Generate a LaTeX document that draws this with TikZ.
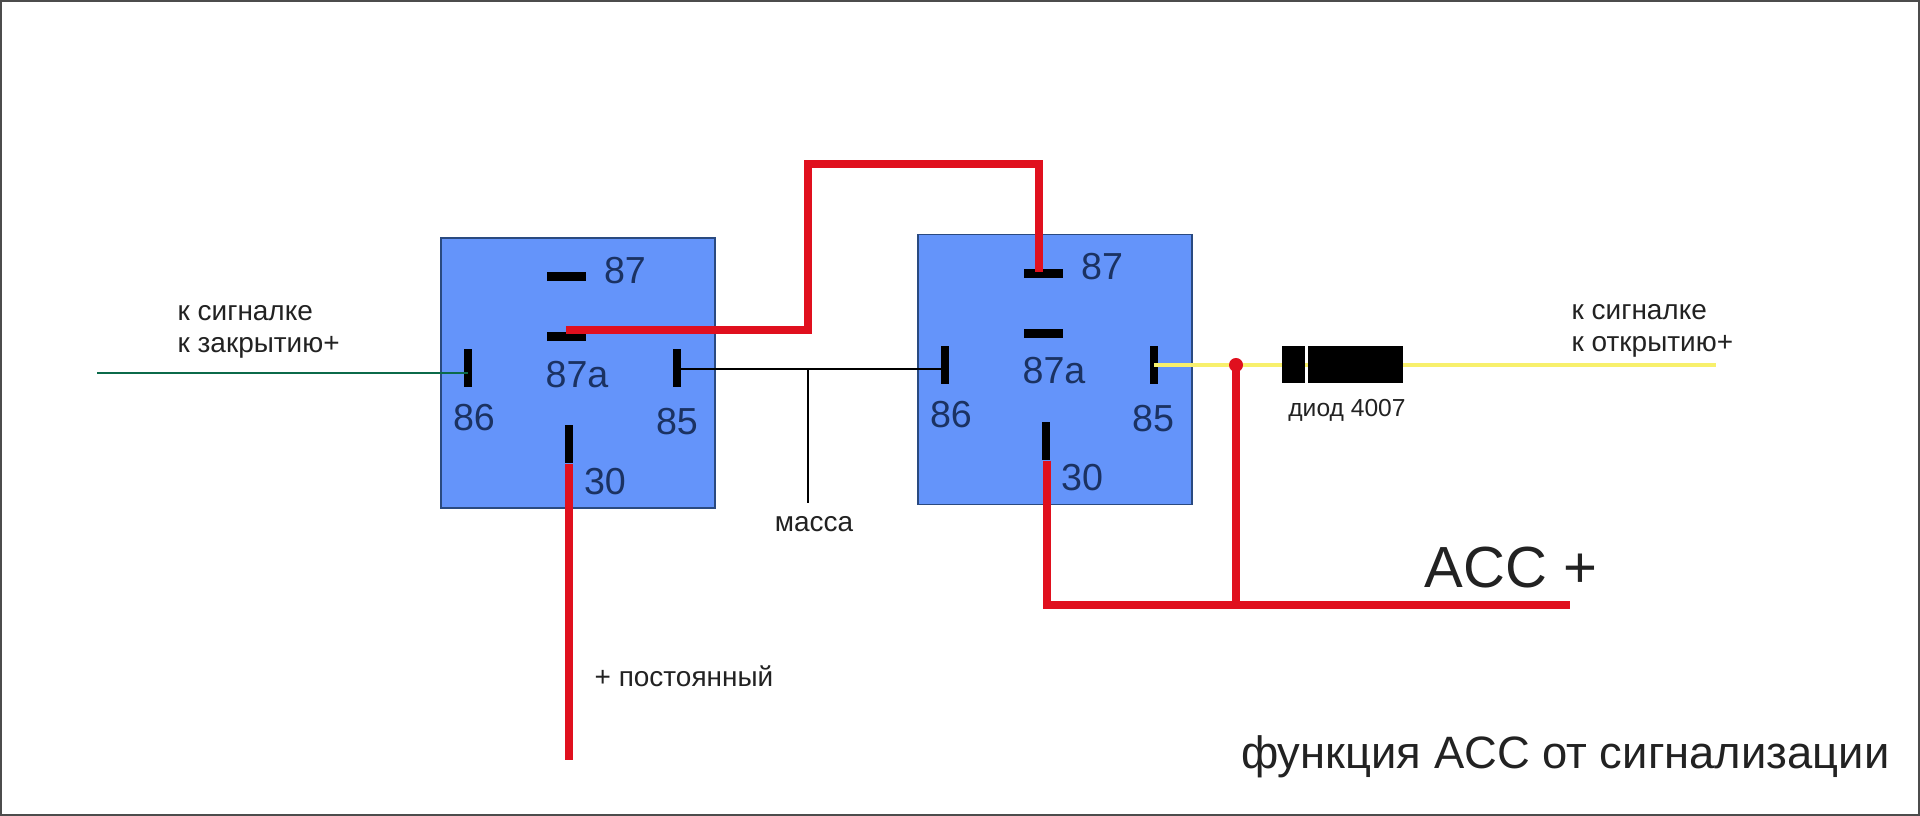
\documentclass[tikz,border=0pt]{standalone}
\usepackage{fontspec}
\setmainfont{Liberation Sans}
\definecolor{relayblue}{HTML}{6494FA}
\definecolor{relayedge}{HTML}{2A4A80}
\definecolor{pinlabel}{HTML}{1B3262}
\definecolor{wirered}{HTML}{E0101E}
\definecolor{wireyellow}{HTML}{F8F06C}
\definecolor{wiregreen}{HTML}{0B6A4A}
\definecolor{inktext}{HTML}{222222}
\begin{document}
\begin{tikzpicture}[x=0.01cm,y=-0.01cm]
\tikzstyle{relay}=[draw=relayedge,line width=0.4pt,fill=relayblue,minimum width=2.74cm,minimum height=2.7cm,inner sep=0pt]
\tikzstyle{pinh}=[fill=black,minimum width=0.39cm,minimum height=0.09cm,inner sep=0pt]
\tikzstyle{pinv}=[fill=black,minimum width=0.08cm,minimum height=0.38cm,inner sep=0pt]
\tikzstyle{pinnum}=[text=pinlabel,inner sep=0pt,font=\fontsize{10.7}{12}\selectfont]
\tikzstyle{note}=[text=inktext,inner sep=0pt,align=left,font=\fontsize{7.95}{9}\selectfont]
\tikzstyle{redwire}=[draw=wirered,line width=2.2pt]
\useasboundingbox (0,0) rectangle (1920,816);
\draw[black!70,line width=0.5pt] (1,1) rectangle (1919,815);
% relay boxes
\node[relay] (relayA) at (578,373) {};
\node[relay] (relayB) at (1055,369.5) {};
% pins
\node[pinh] (a87) at (566.5,277) {};
\node[pinh] (a87a) at (566.5,337) {};
\node[pinv] (a86) at (468,368) {};
\node[pinv] (a85) at (677,368) {};
\node[pinv] (a30) at (569,444) {};
\node[pinh] (b87) at (1043.5,274) {};
\node[pinh] (b87a) at (1043.5,334) {};
\node[pinv] (b86) at (945,365) {};
\node[pinv] (b85) at (1154,365) {};
\node[pinv] (b30) at (1046,441) {};
% wire ends and corners
\coordinate (alarmclose) at (97,373);
\coordinate (alarmopen) at (1716,365);
\coordinate (massa) at (808,369);
\coordinate (massaend) at (808,503);
\coordinate (plusend) at (569,760);
\coordinate (linkstart) at (566,330);
\coordinate (linkup) at (808,330);
\coordinate (linktop) at (808,164);
\coordinate (linkover) at (1039,164);
\coordinate (linkdown) at (1039,272);
\coordinate (accend) at (1570,605);
\coordinate (accjoin) at (1236,605);
\coordinate (accdot) at (1236,365);
% thin wires
\draw[wiregreen,line width=0.6pt] (alarmclose) -- (alarmclose -| a86);
\draw[black,line width=0.7pt] (massa -| a85) -- (massa -| b86);
\draw[black,line width=0.7pt] (massa) -- (massaend);
\draw[wireyellow,line width=1pt] (b85.center |- alarmopen) -- (alarmopen);
% diode
\node[fill=black,minimum width=0.23cm,minimum height=0.37cm,inner sep=0pt] (diodeband) at (1293.5,364.5) {};
\node[fill=black,minimum width=0.95cm,minimum height=0.37cm,inner sep=0pt] (diodebody) at (1355.5,364.5) {};
% red wires
\draw[redwire] (a30.south) -- (a30.south |- plusend);
\draw[redwire] (linkstart) -- (linkup) -- (linktop) -- (linkover) -- (linkdown);
\draw[redwire] (b30.south) ++(1,0) |- (accend);
\draw[redwire] (accjoin) -- (accdot);
\node[circle,fill=wirered,minimum size=0.14cm,inner sep=0pt] (dot) at (accdot) {};
% pin numbers
\node[pinnum] (ta87) at (625,271) {87};
\node[pinnum] (ta87a) at (577,375) {87a};
\node[pinnum] (ta86) at (474,418) {86};
\node[pinnum] (ta85) at (677,422) {85};
\node[pinnum] (ta30) at (605,482) {30};
\node[pinnum] (tb87) at (1102,267) {87};
\node[pinnum] (tb87a) at (1054,371) {87a};
\node[pinnum] (tb86) at (951,415) {86};
\node[pinnum] (tb85) at (1153,419) {85};
\node[pinnum] (tb30) at (1082,478) {30};
% labels
\node[note,anchor=west] (closelabel) at (177,332) {к сигналке\\к закрытию+};
\node[note,anchor=west] (openlabel) at (1571,331) {к сигналке\\к открытию+};
\node[note] (massalabel) at (814,524) {масса};
\node[note,anchor=west] (pluslabel) at (594,676) {+ постоянный};
\node[note,font=\fontsize{7}{9}\selectfont] (diodelabel) at (1347,410) {диод 4007};
\node[text=inktext,inner sep=0pt,anchor=west,font=\fontsize{16.5}{20}\selectfont] (acclabel) at (1424,568) {ACC +};
\node[text=inktext,inner sep=0pt,anchor=east,font=\fontsize{12.9}{14}\selectfont] (titlelabel) at (1890,757) {функция ACC от сигнализации};
\end{tikzpicture}
\end{document}
